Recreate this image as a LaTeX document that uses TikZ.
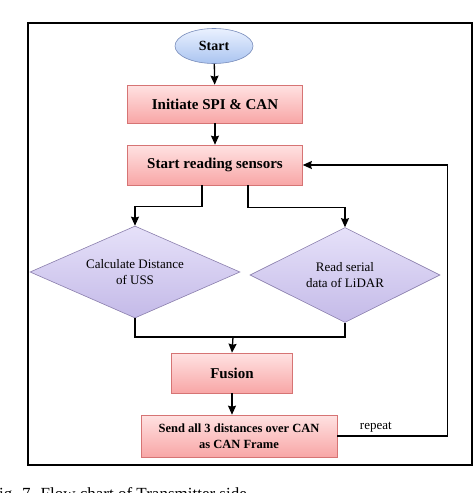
\documentclass[tikz,border=0pt]{standalone}
\usepackage{fontspec}
\setmainfont{Liberation Serif}
\usepackage{tikz}
\usetikzlibrary{shapes.geometric}
\usetikzlibrary{arrows.meta}
\definecolor{boxtop}{RGB}{255,226,226}
\definecolor{boxbot}{RGB}{248,166,166}
\definecolor{boxline}{RGB}{214,116,116}
\definecolor{dectop}{RGB}{230,225,249}
\definecolor{decbot}{RGB}{196,186,232}
\definecolor{decline}{RGB}{138,126,172}
\definecolor{starttop}{RGB}{234,241,255}
\definecolor{startbot}{RGB}{170,196,240}
\definecolor{startline}{RGB}{120,140,186}

\begin{document}
\begin{tikzpicture}[x=1pt,y=-1pt,->,>={Stealth[length=9pt,width=8pt,inset=1pt]},line width=1.3pt,
    box node/.style={rectangle,draw=boxline,line width=0.6pt,top color=boxtop,bottom color=boxbot,
      minimum width=175pt,minimum height=38pt,inner sep=0pt,align=center,font=\fontsize{15}{17}\selectfont\bfseries},
    dec node/.style={diamond,draw=decline,line width=0.6pt,top color=dectop,bottom color=decbot,
      inner sep=0pt,aspect=2.2,align=center,font=\fontsize{13}{16}\selectfont},
    start node/.style={ellipse,draw=startline,line width=0.6pt,top color=starttop,bottom color=startbot,
      minimum width=78pt,minimum height=35pt,inner sep=0pt,font=\fontsize{14}{16}\selectfont\bfseries}]
  \useasboundingbox (0,0) rectangle (474,493);
  % frame round the chart
  \draw[-,line width=1.4pt] (28,23) rectangle (472,465);
  \node[start node] (start) at (214,46) {Start};
  \node[box node] (init) at (215,104) {Initiate SPI \& CAN};
  \node[box node,minimum height=40pt] (read) at (215,165) {Start reading sensors};
  \node[dec node,minimum width=210pt,minimum height=92pt] (uss) at (135,272) {Calculate Distance\\of USS};
  \node[dec node,minimum width=190pt,minimum height=95pt] (lidar) at (345,275) {Read serial\\data of LiDAR};
  \node[box node,minimum width=121pt,minimum height=40pt] (fusion) at (232,373) {Fusion};
  \node[box node,minimum width=196pt,minimum height=42pt,font=\fontsize{12.5}{16}\selectfont\bfseries] (send) at (239,436)
    {Send all 3 distances over CAN\\as CAN Frame};
  \coordinate (merge) at (233,337);
  \path (start) edge (init);
  \path (init) edge (read);
  \draw ([xshift=-13pt]read.south) -- ++(0,21) -| (uss.north);
  \draw ([xshift=33pt]read.south) -- ++(0,22) -| (lidar.north);
  \draw[-] (uss.south) |- (merge) -| (lidar.south);
  \draw (merge) -- (fusion.north);
  \draw (fusion.south) -- (fusion.south |- send.north);
  \draw (send.east) -- node[above,pos=0.35,inner sep=3pt,font=\fontsize{13}{15}\selectfont] (rep) {repeat} ++(110,0) |- (read.east);
  % caption, cut by the page edge
  \node[anchor=base west,inner sep=0pt,font=\fontsize{17}{20}\selectfont] (cap) at (-11,499) {Fig. 7. Flow chart of Transmitter side};
\end{tikzpicture}
\end{document}
